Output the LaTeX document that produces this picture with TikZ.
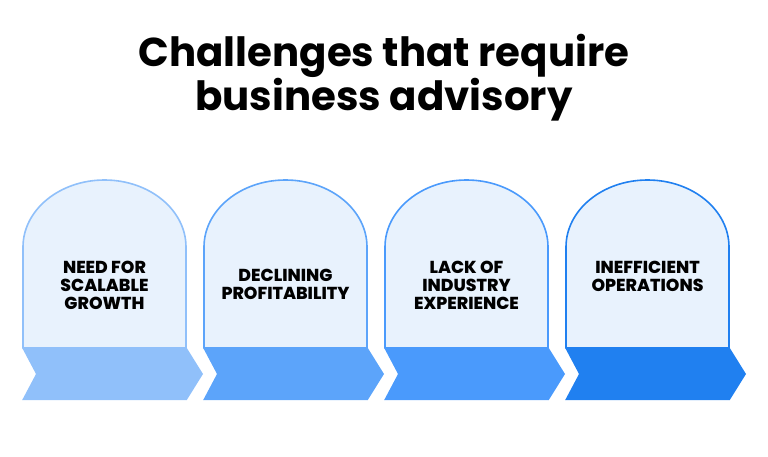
\documentclass[tikz,border=0pt]{standalone}
\usepackage{fontspec}
\setmainfont{Poppins}[UprightFont={* Bold}, BoldFont={* ExtraBold}]
\usepackage{xcolor}
\usetikzlibrary{positioning, calc}
\definecolor{ink}{RGB}{0,0,0}
\definecolor{cardsoft}{RGB}{232,242,253}
\definecolor{blueA}{RGB}{144,192,250}
\definecolor{blueB}{RGB}{92,164,250}
\definecolor{blueC}{RGB}{74,154,252}
\definecolor{blueD}{RGB}{32,128,240}
\tikzset{
  cardbox/.style  ={fill=cardsoft, line width=1.6pt, line join=round},
  chevbox/.style  ={draw=none},
  cardlabel/.style={font=\fontsize{17.3}{18}\selectfont\bfseries, color=ink, align=center, inner sep=0pt},
  titlelabel/.style={font=\fontsize{40.3}{43}\selectfont, color=ink, align=center, inner sep=0pt},
}
\begin{document}
\begin{tikzpicture}[x=1pt, y=1pt]
\useasboundingbox (0,0) rectangle (768,456);
\node[titlelabel] (title) at (384,378) {Challenges that require\\business advisory};
\foreach \i/\x/\col/\ty/\label in {1/23/blueA/171/{NEED FOR\\SCALABLE\\GROWTH},
                                   2/204/blueB/172/{DECLINING\\PROFITABILITY},
                                   3/385/blueC/171/{LACK OF\\INDUSTRY\\EXPERIENCE},
                                   4/566/blueD/179.5/{INEFFICIENT\\OPERATIONS}} {
  % dome card
  \draw[cardbox, draw=\col] (\x,108) -- (\x,209)
    arc[start angle=180, end angle=0, x radius=81.5, y radius=67] -- (\x+163,108) -- cycle;
  % chevron band
  \fill[chevbox, fill=\col] (\x-0.8,108) -- (\x+163.8,108) -- (\x+180,82) -- (\x+163.8,56)
    -- (\x-0.8,56) -- (\x+13,82) -- cycle;
  \node[cardlabel] (c\i) at (\x+81.5,\ty) {\label};
}
\end{tikzpicture}
\end{document}
